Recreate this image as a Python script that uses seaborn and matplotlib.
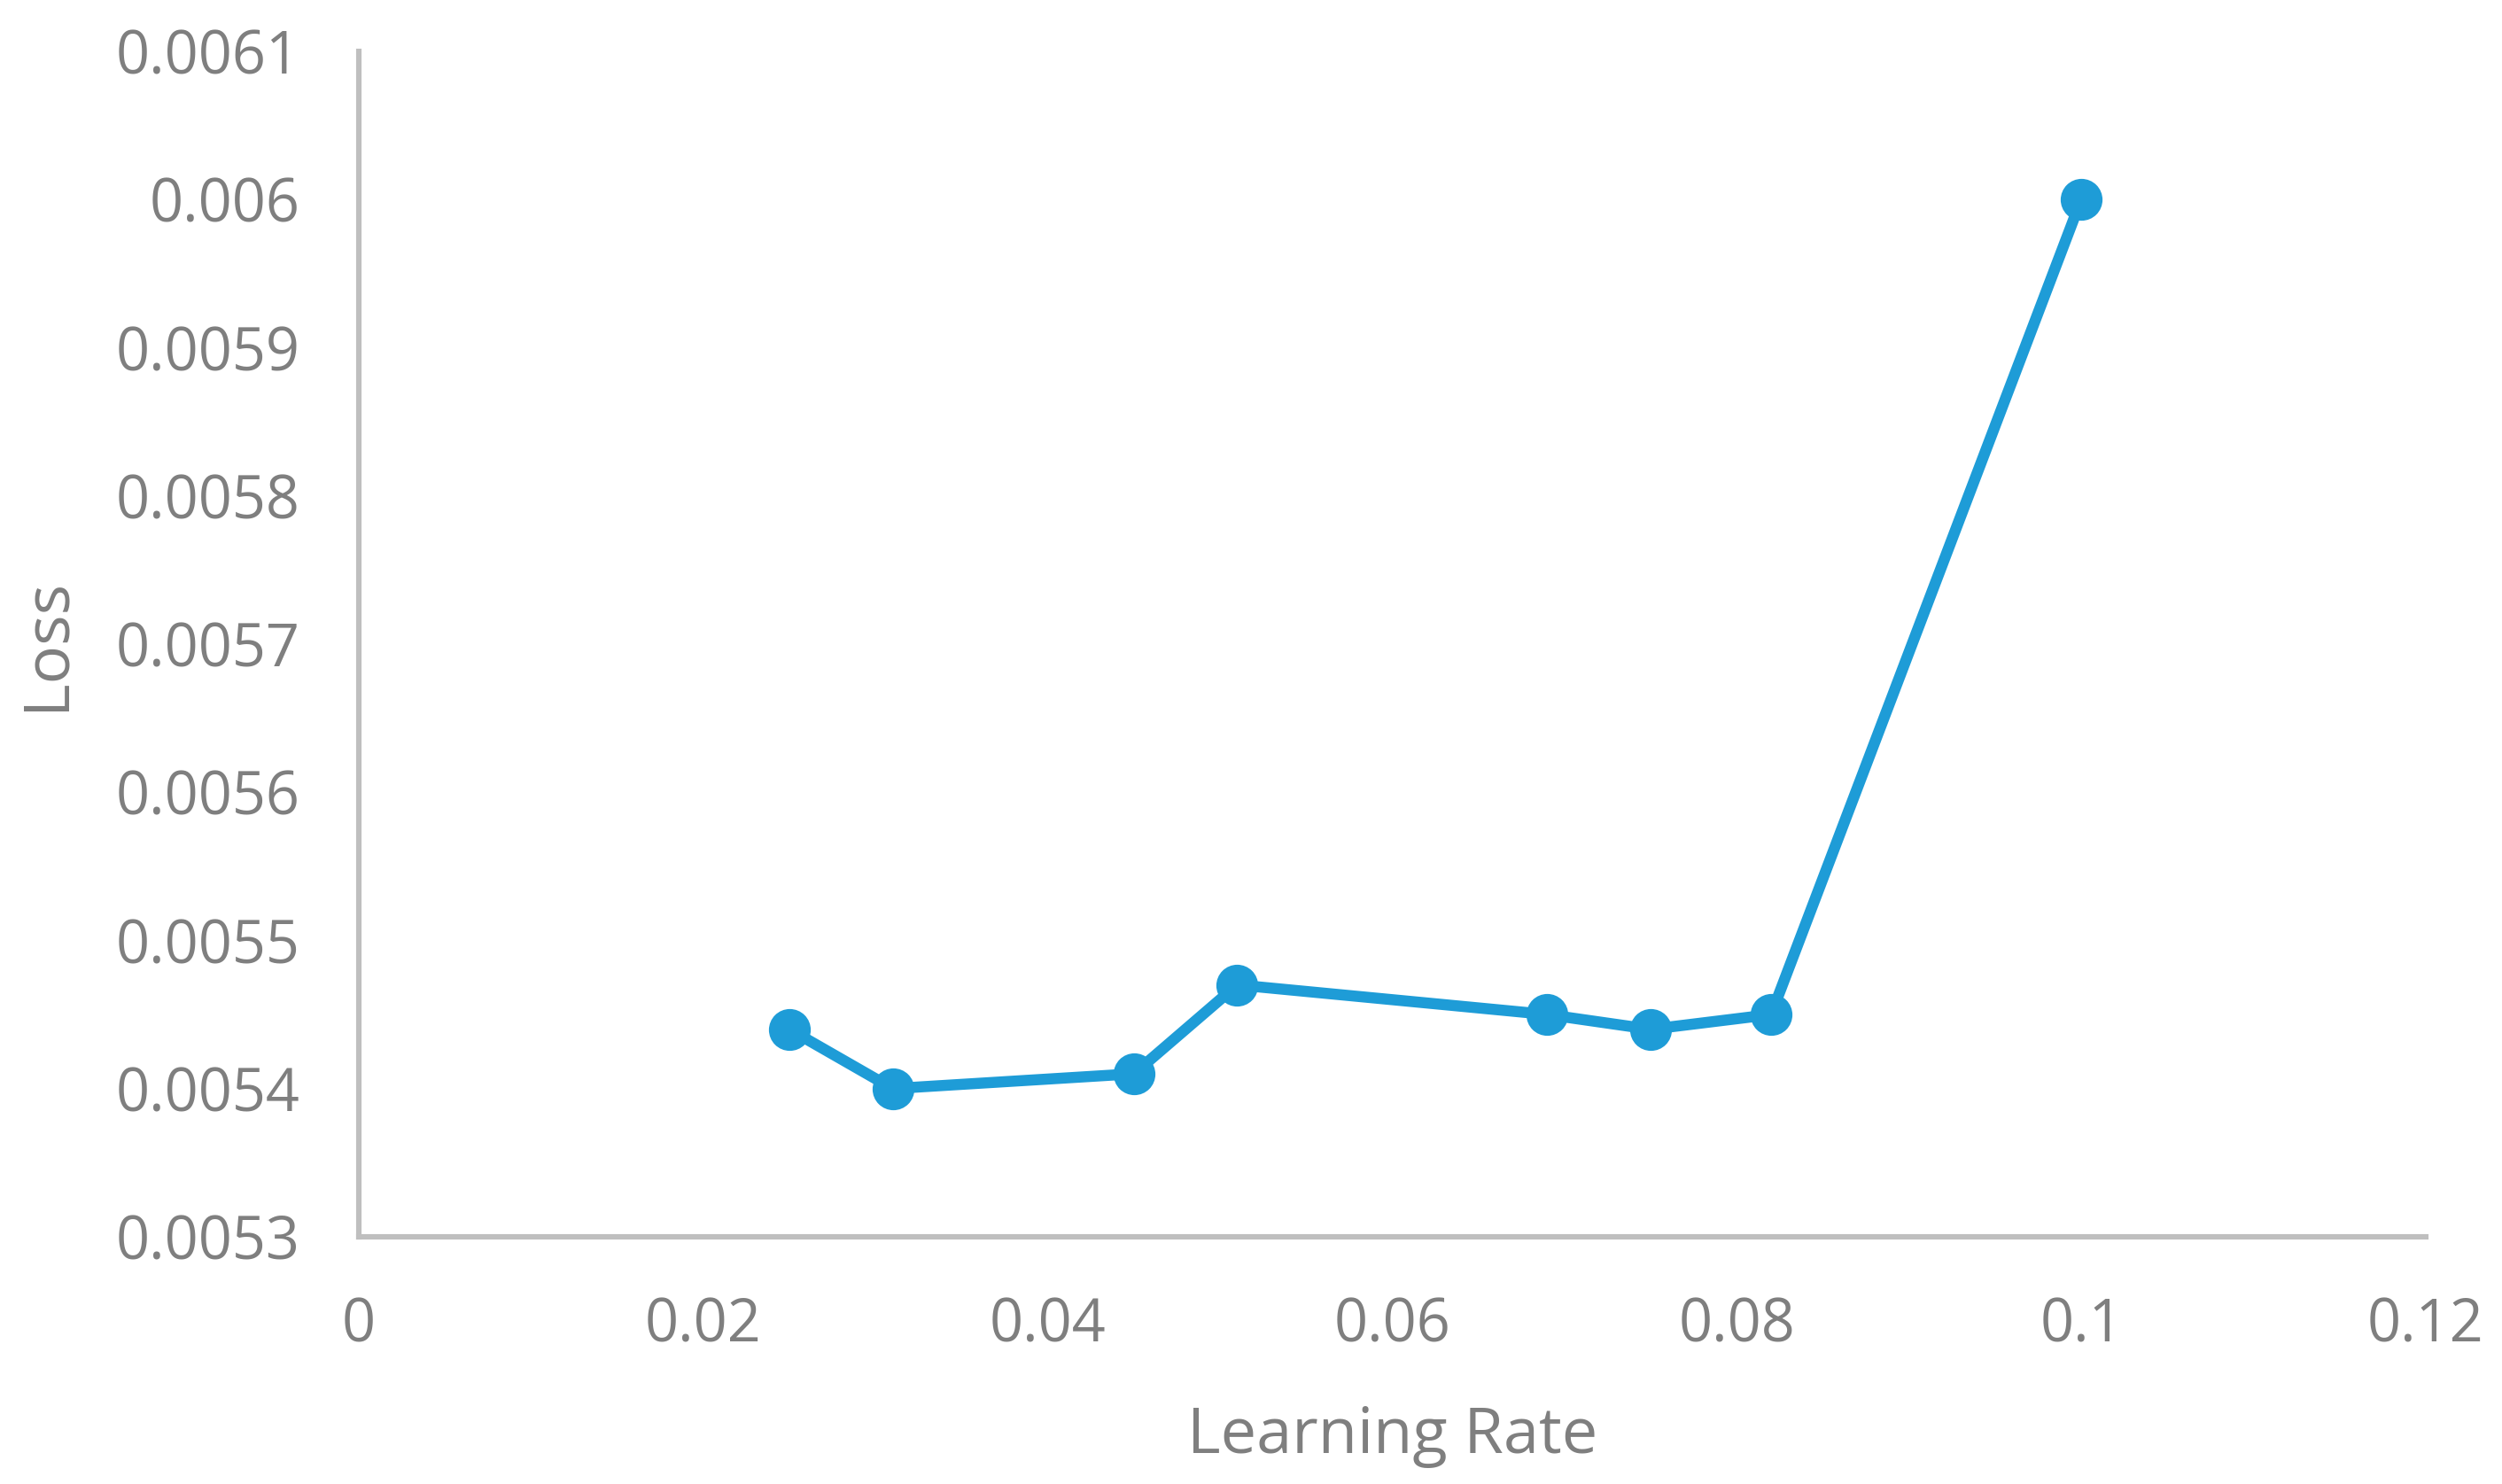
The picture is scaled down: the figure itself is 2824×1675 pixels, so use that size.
import numpy as np
import pandas as pd
import matplotlib
matplotlib.use("Agg")
import matplotlib.pyplot as plt
import seaborn as sns

# values
learning_rate = [0.025, 0.031, 0.045, 0.051, 0.069, 0.075, 0.082, 0.1]
loss = [0.00544, 0.00540, 0.00541, 0.00547, 0.00545, 0.00544, 0.00545, 0.00600]
x_ticks = [0, 0.02, 0.04, 0.06, 0.08, 0.1, 0.12]
x_labels = ["0", "0.02", "0.04", "0.06", "0.08", "0.1", "0.12"]
y_ticks = [0.0053, 0.0054, 0.0055, 0.0056, 0.0057, 0.0058, 0.0059, 0.006, 0.0061]
y_labels = ["0.0053", "0.0054", "0.0055", "0.0056", "0.0057", "0.0058", "0.0059", "0.006", "0.0061"]

df = pd.DataFrame({"Learning Rate": learning_rate, "Loss": loss})

sns.set_style("white")
plt.rcParams["font.family"] = ["Open Sans", "DejaVu Sans"]

grey = "#7f7f7f"
blue = "#1e9cd7"

fig = plt.figure(figsize=(14.12, 8.375), dpi=200)
ax = fig.add_axes([0.1434, 0.1666, 0.8261, 0.7988])

sns.lineplot(data=df, x="Learning Rate", y="Loss", ax=ax, color=blue,
             linewidth=4.5, marker="o", markersize=17, markeredgewidth=0,
             markerfacecolor=blue)

ax.set_xlim(0, 0.12)
ax.set_ylim(0.0053, 0.0061)
ax.set_xticks(x_ticks)
ax.set_xticklabels(x_labels)
ax.set_yticks(y_ticks)
ax.set_yticklabels(y_labels)

for s in ["top", "right"]:
    ax.spines[s].set_visible(False)
for s in ["left", "bottom"]:
    ax.spines[s].set_color("#bfbfbf")
    ax.spines[s].set_linewidth(2.2)

ax.tick_params(axis="both", length=0, labelsize=24, colors=grey)
ax.tick_params(axis="x", pad=24)
ax.tick_params(axis="y", pad=24)

ax.set_xlabel("Learning Rate", fontsize=26, color=grey, labelpad=20)
ax.set_ylabel("Loss", fontsize=26, color=grey, labelpad=15)

fig.savefig("out.png", dpi=200, facecolor="white")
